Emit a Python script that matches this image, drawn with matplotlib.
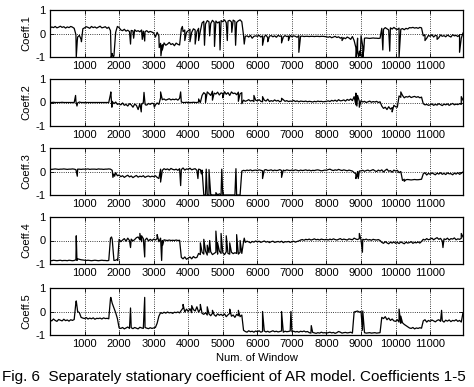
import numpy as np
import matplotlib
matplotlib.use("Agg")
import matplotlib.pyplot as plt

plt.rcParams['font.family'] = ['Liberation Sans', 'DejaVu Sans']

# window index of the base samples (every 50 windows)
step = 50
x_ticks = [1000, 2000, 3000, 4000, 5000, 6000, 7000, 8000, 9000, 10000, 11000]
labels = ['Coeff.1', 'Coeff.2', 'Coeff.3', 'Coeff.4', 'Coeff.5']

coef1 = [
    0.22, 0.28, 0.25, 0.30, 0.24, 0.27, 0.31, 0.26, 0.29, 0.23, 0.28, 0.25, 0.30, 0.27, 0.22, -0.05, -0.15, -0.08, -0.25, 0.20,
    0.24, 0.29, 0.26, 0.22, 0.30, 0.25, 0.28, 0.23, 0.27, 0.31, 0.24, 0.26, 0.29, 0.22, 0.27, 0.12, -0.85, -0.95, 0.05, 0.30,
    0.25, 0.15, 0.12, 0.18, 0.10, 0.14, 0.08, 0.13, 0.11, 0.16, 0.09, 0.12, 0.07, 0.15, 0.10, 0.08, 0.12, 0.05, 0.09, 0.06,
    0.02, -0.15, 0.05, -0.10, -0.42, -0.48, -0.40, -0.50, -0.45, -0.38, -0.47, -0.43, -0.52, -0.41, -0.46, -0.49, 0.20, 0.08, 0.15, 0.05,
    0.12, 0.18, 0.05, 0.20, 0.15, 0.08, 0.22, 0.10, 0.45, 0.52, 0.40, 0.55, 0.50, 0.42, 0.56, 0.48, 0.53, 0.45, 0.50, 0.55,
    0.50, 0.58, 0.46, 0.53, 0.56, 0.49, 0.57, 0.52, 0.47, 0.54, 0.58, 0.50, -0.08, -0.12, -0.10, -0.15, -0.08, -0.20, -0.12, -0.10,
    -0.12, -0.08, -0.15, -0.10, -0.13, -0.07, -0.18, -0.11, -0.09, -0.14, -0.10, -0.16, -0.08, -0.12, -0.10, -0.15, -0.09, -0.13, -0.11, -0.08,
    -0.14, -0.10, -0.12, -0.16, -0.09, -0.12, -0.11, -0.13, -0.12, -0.12, -0.13, -0.12, -0.12, -0.13, -0.12, -0.12, -0.13, -0.12, -0.12, -0.13,
    -0.14, -0.16, -0.13, -0.18, -0.15, -0.12, -0.17, -0.14, -0.20, -0.16, -0.18, -0.22, -0.15, -0.19, -0.25, -0.13, -0.30, -0.60, -0.20, -0.75,
    -0.10, -0.55, -0.20, -0.19, -0.20, -0.21, -0.20, -0.19, -0.20, -0.20, -0.21, -0.20, 0.22, 0.18, 0.25, 0.20, 0.15, 0.24, 0.19, 0.26,
    0.20, 0.17, 0.23, 0.18, 0.21, 0.16, 0.22, 0.19, 0.25, 0.24, 0.26, 0.23, 0.25, 0.22, 0.26, 0.24, -0.10, -0.05, -0.20, -0.08,
    -0.12, -0.05, -0.15, -0.08, -0.10, -0.18, -0.06, -0.12, -0.09, -0.14, -0.07, -0.11, -0.15, -0.05, -0.10, -0.08, -0.13, -0.06, -0.20, 0.02,
]
spikes1 = [(760, -1.0), (790, -0.3), (910, -0.35), (1770, -1.0), (1800, -0.9), (1830, -1.0),
           (2330, -0.45), (2420, -0.2), (2670, -0.25), (2740, -0.32), (3160, -0.6), (3210, -0.95),
           (3250, -0.7), (3830, 0.3), (3900, -0.3), (4050, -0.35), (4200, -0.45),
           (4300, -0.3), (4470, -0.5), (4620, -0.1), (4760, -0.55),
           (4920, -0.7), (5130, -0.3), (5260, 0.05),
           (5370, -0.5), (5620, -0.45), (6150, -0.5), (6300, -0.35),
           (6700, -0.4), (6900, -0.3), (7200, -0.8), (8450, -0.3), (8860, -1.0), (8900, -0.8),
           (8930, -1.0), (8980, -0.95), (9050, -1.0), (9080, -0.7), (9630, -0.7), (9830, -0.75),
           (10100, -1.0), (10850, -0.3), (11200, -0.25), (11850, -0.8)]

coef2 = [
    0.0, 0.0, 0.01, 0.0, 0.0, 0.0, 0.0, 0.01, 0.0, 0.0, 0.0, 0.0, 0.0, 0.0, 0.0, 0.05, -0.02, 0.02, 0.0, 0.0,
    0.0, 0.0, 0.0, 0.0, 0.0, 0.0, 0.0, 0.0, 0.0, 0.0, 0.0, 0.0, 0.0, 0.0, 0.0, 0.35, 0.05, -0.05, 0.02, -0.08,
    -0.05, -0.10, -0.02, -0.12, -0.08, -0.15, -0.05, -0.10, -0.20, -0.07, -0.12, -0.30, -0.05, -0.09, 0.0, -0.06, -0.11, -0.04, -0.08, -0.03,
    -0.05, -0.10, -0.02, -0.08, 0.20, 0.12, 0.15, 0.10, 0.13, 0.16, 0.11, 0.14, 0.12, 0.15, 0.10, 0.18, 0.02, 0.0, 0.0, 0.01,
    0.0, 0.0, 0.0, 0.01, 0.0, 0.0, 0.02, 0.0, 0.30, 0.42, 0.35, 0.45, 0.38, 0.30, 0.48, 0.40, 0.36, 0.44, 0.32, 0.41,
    0.38, 0.46, 0.35, 0.42, 0.30, 0.45, 0.38, 0.40, 0.33, 0.44, 0.37, 0.42, 0.10, 0.05, 0.08, 0.12, 0.06, 0.09, 0.04, 0.10,
    0.07, 0.12, 0.05, 0.03, 0.10, 0.06, 0.14, 0.04, 0.08, 0.05, 0.11, 0.06, 0.09, 0.03, 0.07, 0.12, 0.05, 0.08, 0.04, 0.06,
    0.05, 0.09, 0.04, 0.07, 0.03, 0.06, 0.05, 0.04, 0.06, 0.03, 0.05, 0.04, 0.02, 0.05, 0.03, 0.06, 0.04, 0.05, 0.03, 0.04,
    0.05, 0.07, 0.04, 0.09, 0.06, 0.10, 0.05, 0.12, 0.07, 0.08, 0.11, 0.06, 0.13, 0.09, 0.15, 0.08, 0.25, -0.10, 0.30, 0.05,
    0.08, 0.02, 0.05, 0.0, 0.03, 0.06, 0.01, 0.04, 0.02, 0.05, 0.0, 0.03, -0.15, -0.25, -0.20, -0.30, -0.18, -0.28, -0.22, -0.12,
    -0.18, -0.20, 0.28, 0.22, 0.30, 0.20, 0.25, 0.23, 0.27, 0.21, 0.24, 0.26, 0.22, 0.25, 0.20, 0.23, -0.05, -0.10, -0.08, -0.12,
    -0.10, -0.06, -0.12, -0.08, -0.11, -0.05, -0.09, -0.13, -0.07, -0.10, -0.06, -0.12, -0.08, -0.04, -0.10, -0.07, -0.09, -0.05, -0.08, 0.10,
]
spikes2 = [(740, 0.3), (780, -0.15), (1760, 0.45), (1790, -0.2), (2640, -0.4), (2720, 0.43),
           (2760, -0.1), (3020, -0.2), (3200, 0.45), (3780, 0.45), (4300, 0.15), (4500, 0.0),
           (4700, 0.1), (5000, 0.2), (5450, 0.05), (5550, -0.05), (5900, 0.3), (6150, 0.25),
           (6700, 0.18), (8850, 0.4), (8880, -0.15), (8950, -0.2), (9900, -0.4), (10150, 0.45),
           (11900, 0.25)]

coef3 = [
    0.10, 0.09, 0.10, 0.11, 0.10, 0.09, 0.10, 0.10, 0.11, 0.10, 0.09, 0.10, 0.10, 0.11, 0.10, 0.08, 0.10, 0.10, 0.09, 0.10,
    0.10, 0.10, 0.11, 0.09, 0.10, 0.10, 0.10, 0.09, 0.11, 0.10, 0.10, 0.09, 0.10, 0.10, 0.11, 0.10, 0.05, -0.10, -0.05, -0.18,
    -0.15, -0.22, -0.18, -0.25, -0.20, -0.16, -0.23, -0.19, -0.26, -0.21, -0.17, -0.24, -0.20, -0.22, -0.18, -0.25, -0.21, -0.19, -0.23, -0.20,
    -0.22, -0.18, -0.25, -0.30, 0.10, 0.05, 0.12, 0.08, 0.11, 0.06, 0.13, 0.09, 0.07, 0.10, 0.05, 0.12, 0.08, 0.15, 0.06, 0.11,
    0.09, 0.14, 0.07, 0.10, 0.12, 0.05, 0.10, 0.08, 0.06, -1.0, -1.0, -1.0, -1.0, -0.98, -1.0, -1.0, -1.0, -1.0, -0.95, -1.0,
    -1.0, -1.0, -1.0, -1.0, -1.0, -1.0, -1.0, -1.0, -1.0, -1.0, -1.0, 0.02, 0.05, 0.03, 0.06, 0.04, 0.07, 0.03, 0.05, 0.06,
    0.04, 0.07, 0.05, 0.03, 0.06, 0.08, 0.04, 0.05, 0.07, 0.03, 0.06, 0.04, 0.05, 0.08, 0.04, 0.06, 0.03, 0.07, 0.05, 0.04,
    0.06, 0.04, 0.07, 0.05, 0.03, 0.06, 0.04, 0.05, 0.07, 0.04, 0.06, 0.03, 0.05, 0.04, 0.06, 0.07, 0.05, 0.03, 0.04, 0.06,
    0.05, 0.08, 0.10, 0.06, 0.04, 0.07, 0.05, 0.09, 0.06, 0.04, 0.07, 0.05, 0.03, 0.06, 0.04, 0.02, -0.05, -0.10, 0.00, 0.02,
    0.03, 0.05, 0.01, 0.04, 0.06, 0.02, 0.05, 0.08, 0.03, 0.00, 0.06, 0.02, 0.07, -0.02, 0.05, 0.10, 0.01, 0.04, -0.03, 0.06,
    0.02, 0.05, -0.05, 0.0, -0.38, -0.33, -0.35, -0.34, -0.35, -0.36, -0.35, -0.34, -0.35, -0.35, -0.34, -0.33, -0.10, -0.05, -0.15, -0.08,
    -0.12, -0.06, -0.10, -0.14, -0.07, -0.11, -0.05, -0.12, -0.08, -0.13, -0.06, -0.10, -0.09, -0.14, -0.07, -0.11, -0.05, -0.12, -0.08, -0.02,
]
spikes3 = [(790, -0.2), (1820, -0.25), (1870, -0.2), (3200, -0.45), (3780, -0.6), (4280, -0.3),
           (4380, -0.1), (4520, 0.1), (4600, 0.08), (4800, -0.9), (4970, 0.1), (5380, 0.12),
           (6150, -0.3), (6700, -0.25), (8850, -0.3), (8880, -0.2), (8920, -0.3), (10250, -0.42)]

coef4 = [
    -0.85, -0.86, -0.84, -0.85, -0.86, -0.85, -0.84, -0.86, -0.85, -0.85, -0.86, -0.84, -0.85, -0.86, -0.85, -0.82, -0.78, -0.80, -0.82, -0.83,
    -0.84, -0.85, -0.84, -0.85, -0.86, -0.85, -0.84, -0.85, -0.86, -0.85, -0.84, -0.85, -0.85, -0.86, -0.85, 0.10, 0.05, -0.85, -0.84, -0.80,
    0.05, -0.05, 0.02, 0.08, -0.03, 0.10, 0.0, 0.06, -0.02, 0.04, 0.12, 0.15, 0.03, -0.05, 0.08, 0.02, 0.10, -0.02, 0.05, 0.0,
    0.06, 0.02, 0.08, -0.05, 0.10, 0.0, 0.03, 0.01, 0.0, 0.02, 0.0, 0.01, 0.0, 0.02, 0.0, 0.01, -0.72, -0.78, -0.70, -0.80,
    -0.75, -0.70, -0.78, -0.68, -0.74, -0.72, -0.55, -0.60, -0.50, -0.58, -0.45, -0.62, -0.52, -0.48, -0.60, -0.55, -0.50, -0.58, -0.45, -0.55,
    -0.52, -0.60, -0.48, -0.55, -0.58, -0.50, -0.56, -0.52, -0.55, -0.58, -0.50, -0.55, -0.05, -0.08, -0.03, -0.06, -0.10, -0.04, -0.07, -0.02,
    -0.06, -0.03, -0.08, -0.05, -0.02, -0.07, -0.04, -0.09, -0.05, -0.03, -0.08, -0.06, -0.04, -0.07, -0.03, -0.09, -0.05, -0.06, -0.04, -0.08,
    -0.05, -0.03, -0.07, -0.04, -0.02, 0.02, 0.04, 0.01, 0.05, 0.03, 0.06, 0.02, 0.04, 0.07, 0.03, 0.05, 0.02, 0.06, 0.04, 0.03,
    0.05, 0.02, 0.06, 0.03, 0.07, 0.04, 0.02, 0.05, 0.08, 0.03, 0.06, 0.04, 0.02, 0.07, 0.05, 0.03, 0.10, 0.06, 0.04, 0.08,
    0.02, 0.05, 0.03, 0.06, 0.02, 0.04, 0.01, 0.05, 0.03, 0.02, 0.04, 0.0, -0.08, -0.12, -0.05, -0.10, -0.14, -0.07, -0.11, -0.06,
    -0.12, -0.08, -0.13, -0.06, -0.10, -0.14, -0.07, -0.11, -0.09, -0.05, -0.12, -0.08, -0.10, -0.06, -0.11, -0.04, 0.05, 0.02, 0.08, 0.03,
    0.06, 0.10, 0.03, 0.08, 0.12, 0.05, 0.09, -0.02, 0.07, 0.04, 0.10, 0.02, 0.08, 0.06, 0.11, 0.03, 0.07, 0.05, 0.09, 0.15,
]
spikes4 = [(760, 0.2), (780, -0.85), (1780, 0.15), (1960, -0.85), (2330, -0.3), (2600, 0.3),
           (2650, 0.2), (2740, -0.7), (3100, 0.25), (3230, -0.85), (3260, -0.2), (4350, -0.1),
           (4450, 0.05), (4550, -0.2), (4620, 0.0), (4800, 0.4), (4850, -0.1), (4950, 0.3),
           (5100, 0.2), (5200, -0.1), (5400, 0.25), (5500, 0.0), (5620, 0.1), (8950, 0.3),
           (9040, -0.5), (11370, -0.3), (11900, 0.3)]

coef5 = [
    -0.35, -0.40, -0.32, -0.38, -0.42, -0.34, -0.37, -0.40, -0.33, -0.39, -0.36, -0.41, -0.35, -0.38, -0.34, 0.40, 0.0, -0.05, -0.25, -0.28,
    -0.30, -0.26, -0.32, -0.28, -0.31, -0.27, -0.33, -0.29, -0.30, -0.28, -0.32, -0.27, -0.30, -0.29, -0.31, 0.55, 0.35, 0.15, -0.05, -0.30,
    -0.70, -0.72, -0.68, -0.74, -0.70, -0.66, -0.72, -0.69, -0.73, -0.68, -0.71, -0.74, -0.67, -0.70, -0.72, -0.68, -0.71, -0.73, -0.69, -0.72,
    -0.70, -0.68, -0.50, -0.20, -0.05, -0.08, -0.03, -0.07, -0.02, -0.06, -0.04, -0.08, -0.03, -0.05, -0.02, -0.06, 0.05, 0.15, -0.02, 0.10,
    0.0, 0.12, -0.05, 0.08, 0.02, 0.20, -0.03, 0.10, -0.08, -0.12, -0.05, -0.15, -0.10, -0.18, -0.08, -0.14, -0.20, -0.10, -0.16, -0.12,
    -0.18, -0.10, -0.22, -0.14, -0.08, -0.20, -0.15, -0.25, -0.12, -0.18, -0.22, -0.15, -0.80, -0.85, -0.88, -0.82, -0.86, -0.84, -0.88, -0.83,
    -0.86, -0.82, -0.88, -0.85, -0.83, -0.87, -0.84, -0.88, -0.85, -0.82, -0.86, -0.84, -0.87, -0.85, -0.83, -0.88, -0.84, -0.86, -0.85, -0.83,
    -0.86, -0.84, -0.87, -0.85, -0.88, -0.84, -0.86, -0.83, -0.87, -0.85, -0.90, -0.92, -0.89, -0.91, -0.93, -0.90, -0.92, -0.88, -0.91, -0.90,
    -0.92, -0.90, -0.88, -0.91, -0.89, -0.93, -0.90, -0.85, -0.88, -0.92, -0.90, -0.89, -0.91, -0.90, -0.88, -0.92, -0.02, 0.0, 0.02, -0.03,
    0.0, 0.02, -0.90, -0.92, -0.91, -0.90, -0.92, -0.91, -0.90, -0.92, -0.91, -0.90, -0.25, -0.30, -0.22, -0.35, -0.28, -0.38, -0.32, -0.40,
    -0.42, -0.35, -0.45, -0.50, -0.48, -0.55, -0.60, -0.65, -0.70, -0.72, -0.68, -0.74, -0.70, -0.72, -0.69, -0.71, -0.40, -0.35, -0.45, -0.38,
    -0.42, -0.36, -0.40, -0.44, -0.38, -0.35, -0.42, -0.39, -0.45, -0.37, -0.41, -0.36, -0.43, -0.38, -0.40, -0.35, -0.42, -0.38, -0.45, -0.05,
]
spikes5 = [(760, 0.45), (1760, 0.6), (2330, 0.15), (2740, 0.6), (3850, 0.3), (4100, 0.25),
           (4350, 0.3), (4550, 0.2), (4700, 0.05), (5200, 0.1), (5450, 0.05), (6150, 0.0),
           (6700, 0.0), (6970, 0.0), (7560, -0.6), (9040, -0.8), (10100, 0.1), (10150, -0.2),
           (11330, 0.05)]

series = [(coef1, spikes1), (coef2, spikes2), (coef3, spikes3), (coef4, spikes4), (coef5, spikes5)]

W, H = 474, 387
fig = plt.figure(figsize=(W / 100, H / 100), dpi=100)

left_px, width_px, height_px = 50, 413, 47
tops_px = [10, 79, 148, 217, 288]

for k, ((base, spk), top) in enumerate(zip(series, tops_px)):
    ax = fig.add_axes([left_px / W, 1 - (top + height_px) / H, width_px / W, height_px / H])
    xs = list(np.arange(len(base)) * step) + [p for p, v in spk]
    ys = list(base) + [v for p, v in spk]
    order = np.argsort(xs, kind='stable')
    ax.plot(np.array(xs)[order], np.array(ys)[order], color='k', lw=0.9)
    ax.set_xlim(0, 11950)
    ax.set_ylim(-1, 1)
    ax.set_xticks(x_ticks)
    ax.set_xticklabels([str(t) for t in x_ticks])
    ax.set_yticks([-1, 0, 1])
    ax.set_yticklabels(['-1', '0', '1'])
    ax.tick_params(direction='in', length=3, width=0.6, labelsize=8, pad=3,
                   top=True, right=True)
    ax.grid(True, linestyle=':', color='k', lw=0.6)
    for s in ax.spines.values():
        s.set_linewidth(0.9)
    ax.set_ylabel(labels[k], fontsize=8, labelpad=3)
    if k == 4:
        ax.set_xlabel('Num. of Window', fontsize=8, labelpad=3)

fig.text(0.004, 1 - 370 / H, 'Fig. 6  Separately stationary coefficient of AR model. Coefficients 1-5',
         fontsize=11, va='top', ha='left')

fig.savefig('out.png', dpi=100)
